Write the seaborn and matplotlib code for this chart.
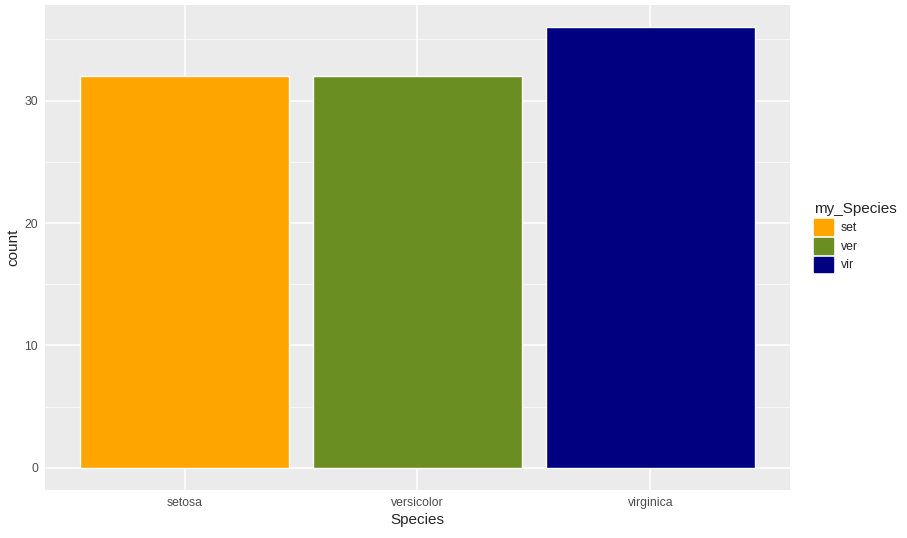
import matplotlib
matplotlib.use("Agg")
import matplotlib.pyplot as plt
import matplotlib.patches as mpatches
import seaborn as sns
import pandas as pd

species = ["setosa", "versicolor", "virginica"]
counts = [32, 32, 36]
my_species = ["set", "ver", "vir"]
colors = ["orange", "olivedrab", "navy"]

df = pd.DataFrame({"Species": species, "count": counts, "my_Species": my_species})

sns.set_style("darkgrid", {"axes.facecolor": "#EBEBEB", "grid.color": "white"})
plt.rcParams["font.family"] = ["Liberation Sans", "DejaVu Sans"]

fig = plt.figure(figsize=(9.07, 5.38), dpi=100)
ax = fig.add_axes([0.0496, 0.0892, 0.8214, 0.9015])
sns.barplot(data=df, x="Species", y="count", hue="my_Species", palette=colors,
            width=0.9, dodge=False, legend=False, ax=ax, saturation=1)

ax.set_xlim(-0.6, 2.6)
ax.set_ylim(-1.8, 37.8)
ax.set_yticks([0, 10, 20, 30])
ax.set_yticks([5, 15, 25, 35], minor=True)
ax.grid(which="major", color="white", linewidth=1.1)
ax.grid(which="minor", axis="y", color="white", linewidth=0.5)
ax.set_axisbelow(True)
for s in ax.spines.values():
    s.set_visible(False)
ax.tick_params(axis="both", which="major", colors="#333333", labelsize=8.8, length=3, width=0.8, pad=2,
               color="#333333", labelcolor="#4D4D4D")
ax.tick_params(which="minor", length=0)
ax.set_xlabel("Species", fontsize=11, labelpad=3)
ax.set_ylabel("count", fontsize=11, labelpad=3)

handles = [mpatches.Patch(color=c, label=l) for c, l in zip(colors, my_species)]
leg = fig.legend(handles=handles, title="my_Species", loc="upper left",
                 bbox_to_anchor=(0.885, 0.645), frameon=False, fontsize=8.8,
                 title_fontsize=11, handlelength=1.6, handleheight=1.6,
                 handletextpad=0.6, labelspacing=0.25)
leg._legend_box.align = "left"

fig.savefig("out.png", dpi=100)
